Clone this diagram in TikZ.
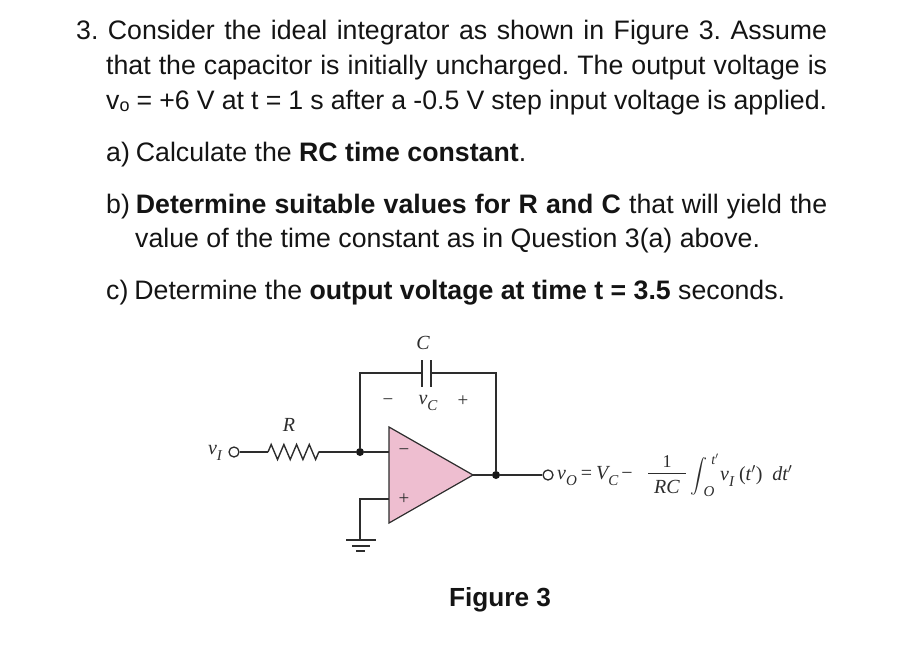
\documentclass[tikz,border=0pt]{standalone}
\usepackage{fontspec}
\usepackage{graphicx}
\setmainfont{Liberation Sans}
\newfontfamily\labelfont{Liberation Serif}
\usetikzlibrary{decorations.pathmorphing}
\definecolor{ampfill}{RGB}{238,190,208}
\definecolor{wirecol}{RGB}{45,45,45}
\newcommand{\fullline}[1]{\makebox[721pt][s]{#1}}
\newcommand{\sublabel}[1]{\raisebox{-0.28em}{\fontsize{15}{16}\selectfont #1}}
\tikzset{
    textline/.style={anchor=base west, inner sep=0pt, font=\fontsize{26.7}{32}\selectfont, text=black!92},
    circlabel/.style={inner sep=0pt, font=\labelfont\fontsize{20}{24}\selectfont, text=wirecol},
    signlabel/.style={inner sep=0pt, font=\labelfont\fontsize{19}{22}\selectfont, text=wirecol},
    wire/.style={draw=wirecol, line width=1.4pt},
    dotnode/.style={circle, fill=black!90, inner sep=0pt, minimum size=8pt},
    termnode/.style={circle, draw=wirecol, fill=white, line width=1.3pt, inner sep=0pt, minimum size=10pt}
}
\begin{document}
\frenchspacing
\begin{tikzpicture}[x=1pt, y=-1pt]
    \useasboundingbox (0,0) rectangle (907,667);
    % question text
    \node [textline] (qa) at (76,39) {\makebox[751pt][s]{3. Consider the ideal integrator as shown in Figure 3. Assume}};
    \node [textline] (qb) at (106,74) {\fullline{that the capacitor is initially uncharged. The output voltage is}};
    \node [textline] (qc) at (106,109) {\fullline{v\raisebox{-0.1em}{\fontsize{18}{20}\selectfont o} = +6 V at t = 1 s after a -0.5 V step input voltage is applied.}};
    \node [textline] (pa) at (106,161) {a)\hspace{6pt}Calculate the \textbf{RC time constant}.};
    \node [textline] (pb) at (106,213) {\fullline{b)\hspace{6pt}\textbf{Determine suitable values for R and C} that will yield the}};
    \node [textline] (pc) at (135,247) {value of the time constant as in Question 3(a) above.};
    \node [textline] (pd) at (106,299) {c)\hspace{6pt}Determine the \textbf{output voltage at time t = 3.5} seconds.};
    % op amp
    \coordinate (ampa) at (389,427);
    \coordinate (ampb) at (389,523);
    \coordinate (amptip) at (473,475);
    \coordinate (ampm) at (389,452);
    \coordinate (ampp) at (389,499);
    \filldraw [fill=ampfill, draw=wirecol, line width=1.2pt] (ampa) -- (amptip) -- (ampb) -- cycle;
    \node [signlabel] (mm) at (404,452) {\textminus};
    \node [signlabel] (pp) at (404,499) {+};
    % junctions
    \node [termnode] (vin) at (234,452) {};
    \coordinate (resa) at (268,452);
    \coordinate (resb) at (319,452);
    \node [dotnode] (jin) at (360,452) {};
    \node [dotnode] (jout) at (496,475) {};
    \node [termnode] (vout) at (548,475) {};
    \coordinate (capa) at (422,373);
    \coordinate (capb) at (431,373);
    \coordinate (tl) at (360,373);
    \coordinate (tr) at (496,373);
    \coordinate (gtop) at (360,499);
    \coordinate (gnd) at (360,540);
    % wires
    \draw [wire] (vin) -- (resa);
    \draw [wire, decorate, decoration={zigzag, segment length=12.7pt, amplitude=7.5pt}] (resa) -- (resb);
    \draw [wire] (resb) -- (jin) -- (ampm);
    \draw [wire] (jin) -- (tl) -- (capa);
    \draw [wire] (capb) -- (tr) -- (jout);
    \draw [wire] (amptip) -- (jout) -- (vout);
    \draw [wire] (ampp) -- (gtop) -- (gnd);
    % capacitor
    \draw [wire, line width=1.6pt] (422,360) -- (422,387);
    \draw [wire, line width=1.6pt] (431,360) -- (431,387);
    % ground
    \draw [wire, line width=1.6pt] (346,540) -- (376,540);
    \draw [wire, line width=1.6pt] (352,546) -- (370,546);
    \draw [wire, line width=1.6pt] (356,551) -- (365,551);
    % labels
    \node [circlabel] (lc) at (423,343) {\itshape C};
    \node [circlabel] (lvc) at (428,403) {\itshape v\sublabel{C}};
    \node [signlabel] (lm) at (388,402) {\textminus};
    \node [signlabel] (lp) at (463,401) {+};
    \node [circlabel] (lr) at (289,425) {\itshape R};
    \node [circlabel] (lvi) at (215,453) {\itshape v\sublabel{I}};
    \node [circlabel, anchor=west] (lvo) at (557,476) {\itshape v\sublabel{O}\upshape\hspace{4pt}=\hspace{4pt}\itshape V\sublabel{C}\upshape\hspace{3pt}\textminus};
    \node [circlabel] (lone) at (667,462) {\fontsize{18}{20}\selectfont 1};
    \node [circlabel] (lrc) at (667,487) {\itshape RC};
    \coordinate (fa) at (648,473);
    \coordinate (fb) at (686,473);
    \draw [wire, line width=1pt] (fa) -- (fb);
    \node [circlabel] (lint) at (699,476) {\scalebox{1.7}{$\displaystyle\int$}};
    \node [circlabel] (lup) at (715,459) {\fontsize{14}{16}\selectfont\itshape t\/$'$};
    \node [circlabel] (llow) at (709,492) {\fontsize{15}{16}\selectfont\itshape O};
    \node [circlabel, anchor=west] (lrest) at (720,476) {\itshape v\sublabel{I}\upshape\hspace{5pt}(\itshape t\upshape$'$)\hspace{10pt}\itshape dt\upshape$'$};
    % caption
    \node [textline, anchor=base, font=\fontsize{26.2}{32}\selectfont\bfseries] (cap) at (500,606) {Figure 3};
\end{tikzpicture}
\end{document}
